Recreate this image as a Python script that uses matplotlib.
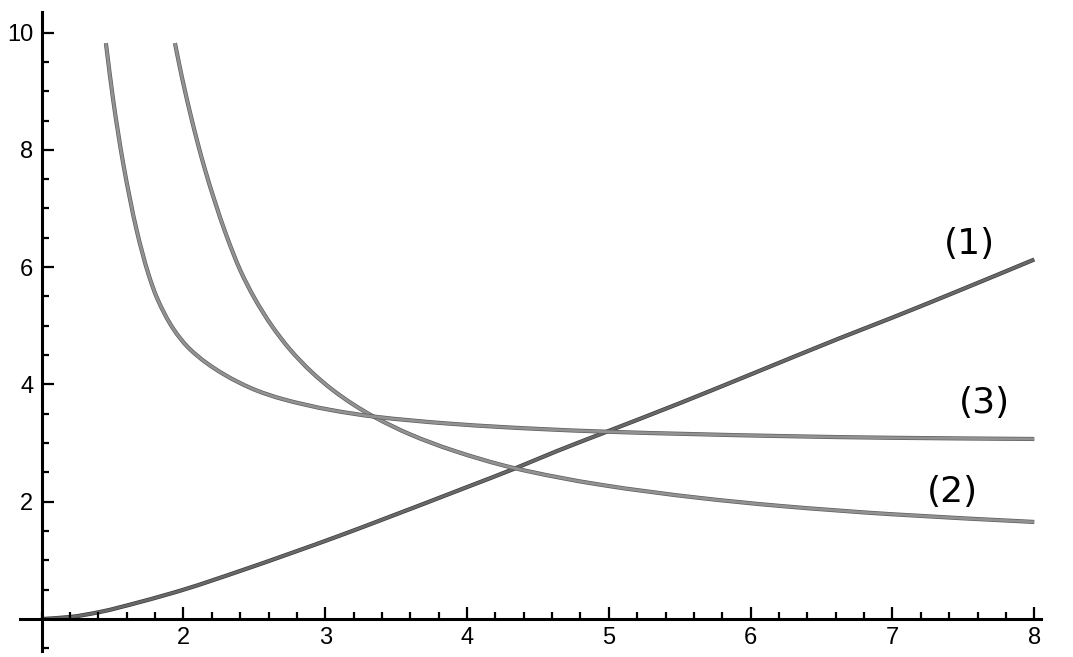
import matplotlib
matplotlib.use("Agg")
import numpy as np
import matplotlib.pyplot as plt
import matplotlib.patheffects as pe
from matplotlib.path import Path
from matplotlib.patches import PathPatch
from matplotlib.ticker import MultipleLocator, FixedLocator

# Curve (1)
x1 = [1.0, 1.2, 1.41, 1.693, 2.0, 2.4, 3.1, 3.386, 4.0, 4.33, 4.63, 4.97, 5.5, 6.0, 6.63, 7.0, 7.5, 8.0]
y1 = [0.0, 0.035, 0.12, 0.29, 0.5, 0.82, 1.42, 1.68, 2.25, 2.56, 2.86, 3.18, 3.68, 4.17, 4.79, 5.14, 5.63, 6.13]

# Curve (2)
x2 = [1.94, 1.97, 2.0, 2.05, 2.1, 2.15, 2.22, 2.3, 2.4, 2.5, 2.62, 2.75, 2.9, 3.05, 3.2, 3.35,
      3.6, 3.9, 4.33, 4.94, 5.64, 6.2, 7.0, 8.0]
y2 = [9.82, 9.46, 9.12, 8.60, 8.12, 7.68, 7.13, 6.56, 5.95, 5.475, 5.01, 4.60, 4.22, 3.91, 3.655, 3.44,
      3.147, 2.875, 2.575, 2.29, 2.065, 1.93, 1.786, 1.655]

# Curve (3)
x3 = [1.453, 1.505, 1.575, 1.67, 1.752, 1.81, 1.928, 2.046, 2.28, 2.516, 2.70, 3.033, 3.35,
      3.856, 4.235, 4.514, 4.97, 6.21, 7.0, 8.0]
y3 = [9.82, 8.84, 7.77, 6.63, 5.89, 5.495, 4.95, 4.60, 4.18, 3.897, 3.75, 3.567, 3.45,
      3.335, 3.275, 3.24, 3.195, 3.12, 3.09, 3.07]

labels = ["(1)", "(2)", "(3)"]
label_pos = [(7.546, 6.39), (7.42, 2.16), (7.65, 3.68)]

xticks = [2, 3, 4, 5, 6, 7, 8]
yticks = [2, 4, 6, 8, 10]


def smooth_path(xs, ys):
    """Monotone cubic (Fritsch-Carlson) rendering of the read points as Bezier segments."""
    x = np.asarray(xs, float)
    y = np.asarray(ys, float)
    h = np.diff(x)
    d = np.diff(y) / h
    m = np.zeros_like(x)
    m[0] = d[0]
    m[-1] = d[-1]
    for i in range(1, len(x) - 1):
        if d[i - 1] * d[i] <= 0:
            m[i] = 0.0
        else:
            w1 = 2 * h[i] + h[i - 1]
            w2 = h[i] + 2 * h[i - 1]
            m[i] = (w1 + w2) / (w1 / d[i - 1] + w2 / d[i])
    verts = [(x[0], y[0])]
    codes = [Path.MOVETO]
    for i in range(len(x) - 1):
        verts += [(x[i] + h[i] / 3, y[i] + m[i] * h[i] / 3),
                  (x[i + 1] - h[i] / 3, y[i + 1] - m[i + 1] * h[i] / 3),
                  (x[i + 1], y[i + 1])]
        codes += [Path.CURVE4] * 3
    return Path(verts, codes)


fig = plt.figure(figsize=(10.73, 6.57), dpi=100)
ax = fig.add_axes([0.019, 0.0087, 0.9515, 0.973])
ax.set_xlim(0.85, 8.05)
ax.set_ylim(-0.55, 10.35)

styles = [(x1, y1, "#686868", "#3c3c3c"),
          (x2, y2, "#929292", "#5e5e5e"),
          (x3, y3, "#929292", "#5e5e5e")]
for xs, ys, col, edge in styles:
    patch = PathPatch(smooth_path(xs, ys), facecolor="none", edgecolor=col, lw=2.0,
                      capstyle="butt",
                      path_effects=[pe.Stroke(linewidth=3.0, foreground=edge), pe.Normal()])
    ax.add_patch(patch)

for t, (tx, ty) in zip(labels, label_pos):
    ax.text(tx, ty, t, fontsize=26, family="DejaVu Sans", ha="center", va="center", color="black")

for s in ["top", "right"]:
    ax.spines[s].set_visible(False)
ax.spines["left"].set_position(("data", 1))
ax.spines["bottom"].set_position(("data", 0))
ax.spines["left"].set_linewidth(2.2)
ax.spines["bottom"].set_linewidth(2.2)

ax.xaxis.set_major_locator(FixedLocator(xticks))
ax.yaxis.set_major_locator(FixedLocator(yticks))
ax.xaxis.set_minor_locator(MultipleLocator(0.2))
ax.yaxis.set_minor_locator(MultipleLocator(0.5))
ax.tick_params(axis="both", which="major", direction="in", length=8.6, width=1.6, pad=6)
ax.tick_params(axis="both", which="minor", direction="in", length=5, width=1.6)
ax.set_xticks(xticks)
ax.set_xticklabels([str(v) for v in xticks], fontsize=17, family="Liberation Sans")
ax.set_yticks(yticks)
ax.set_yticklabels([str(v) for v in yticks], fontsize=17, family="Liberation Sans")

fig.savefig("out.png", dpi=100, facecolor="white")
